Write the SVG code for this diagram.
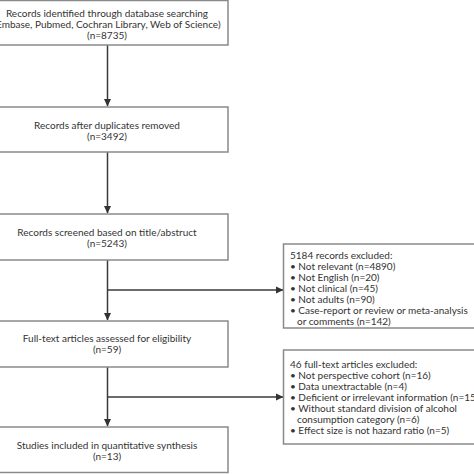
<svg xmlns="http://www.w3.org/2000/svg" width="474" height="474" viewBox="0 0 474 474">
<defs>
<marker id="ah" markerWidth="8" markerHeight="8" refX="7" refY="4" orient="auto" markerUnits="userSpaceOnUse">
<path d="M0,0.5 L7.5,4 L0,7.5 Z" fill="#333"/>
</marker>
</defs>
<style>
.box{fill:#fff;stroke:#8a8a8a;stroke-width:1.5}
.t{font-family:Lato,"Open Sans",sans-serif;font-size:10px;fill:#333}
.c{text-anchor:middle}
.ln{stroke:#3a3a3a;stroke-width:1.5;fill:none}
</style>
<rect width="474" height="474" fill="#fff"/>
<g id="connectors">
<line class="ln" x1="107.5" y1="45" x2="107.5" y2="106" marker-end="url(#ah)"/>
<line class="ln" x1="107.5" y1="152" x2="107.5" y2="213" marker-end="url(#ah)"/>
<line class="ln" x1="107.5" y1="260" x2="107.5" y2="320" marker-end="url(#ah)"/>
<line class="ln" x1="107.5" y1="367" x2="107.5" y2="426" marker-end="url(#ah)"/>
<line class="ln" x1="107.5" y1="290" x2="283" y2="290" marker-end="url(#ah)"/>
<line class="ln" x1="107.5" y1="397" x2="283" y2="397" marker-end="url(#ah)"/>
</g>
<g id="n1">
<rect class="box" x="-14" y="0.5" width="242" height="44.5"/>
<text class="t c" x="107" y="16.5">Records identified through database searching</text>
<text class="t c" x="107" y="27.5">(Embase, Pubmed, Cochran Library, Web of Science)</text>
<text class="t c" x="107" y="38.5">(n=8735)</text>
</g>
<g id="n2">
<rect class="box" x="-14" y="107" width="242" height="45"/>
<text class="t c" x="107" y="128.5">Records after duplicates removed</text>
<text class="t c" x="107" y="139.5">(n=3492)</text>
</g>
<g id="n3">
<rect class="box" x="-14" y="214" width="242" height="46"/>
<text class="t c" x="107" y="236">Records screened based on title/abstruct</text>
<text class="t c" x="107" y="247">(n=5243)</text>
</g>
<g id="n4">
<rect class="box" x="-14" y="321" width="242" height="46"/>
<text class="t c" x="107" y="341.5">Full-text articles assessed for eligibility</text>
<text class="t c" x="107" y="352.5">(n=59)</text>
</g>
<g id="n5">
<rect class="box" x="-14" y="427" width="242" height="45.5"/>
<text class="t c" x="107" y="448.5">Studies included in quantitative synthesis</text>
<text class="t c" x="107" y="459.5">(n=13)</text>
</g>
<g id="n6">
<rect class="box" x="283.5" y="244" width="200" height="84"/>
<text class="t" x="290" y="258.5">5184 records excluded:</text>
<text class="t" x="290" y="269.5">• Not relevant (n=4890)</text>
<text class="t" x="290" y="280.5">• Not English (n=20)</text>
<text class="t" x="290" y="291.5">• Not clinical (n=45)</text>
<text class="t" x="290" y="302.5">• Not adults (n=90)</text>
<text class="t" x="290" y="313.5">• Case-report or review or meta-analysis</text>
<text class="t" x="297" y="324.5">or comments (n=142)</text>
</g>
<g id="n7">
<rect class="box" x="283.5" y="350" width="200" height="94"/>
<text class="t" x="290" y="367.5">46 full-text articles excluded:</text>
<text class="t" x="290" y="378.5">• Not perspective cohort (n=16)</text>
<text class="t" x="290" y="389.5">• Data unextractable (n=4)</text>
<text class="t" x="290" y="400.5">• Deficient or irrelevant information (n=15)</text>
<text class="t" x="290" y="411.5">• Without standard division of alcohol</text>
<text class="t" x="297" y="422.5">consumption category (n=6)</text>
<text class="t" x="290" y="433.5">• Effect size is not hazard ratio (n=5)</text>
</g>
</svg>
